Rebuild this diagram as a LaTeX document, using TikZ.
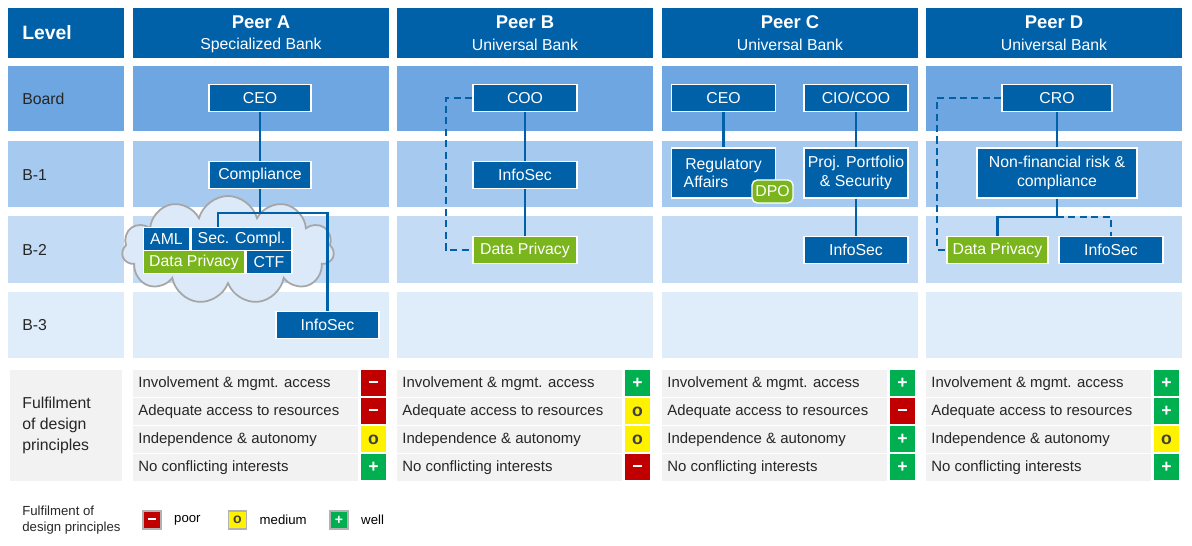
\documentclass[tikz,border=0pt]{standalone}
\usepackage{fontspec}
\setmainfont{Liberation Sans}
\usetikzlibrary{positioning,shapes.symbols}
\definecolor{hdblue}{HTML}{0060A8}
\definecolor{rowa}{HTML}{6EA6E2}
\definecolor{rowb}{HTML}{A6C9EF}
\definecolor{rowc}{HTML}{C3DBF5}
\definecolor{rowd}{HTML}{DFECFA}
\definecolor{cellgray}{HTML}{F2F2F2}
\definecolor{dpgreen}{HTML}{7AB51D}
\definecolor{poorred}{HTML}{C00000}
\definecolor{wellgreen}{HTML}{00B050}
\newcommand\peerhead[3]{%
  \fill[hdblue] (#1,8) rectangle ++(256,50);
  \node[font=\bfseries\fontsize{10.5}{12}\selectfont, text=white] at (#1+128,22) {#2};
  \node[font=\fontsize{9}{11}\selectfont, text=white] at (#1+128,45) {#3};}
\def\symneg{-}\def\symmed{o}\def\sympos{+}
\begin{document}
\begin{tikzpicture}[x=0.02cm, y=-0.02cm,
    every node/.style={font=\fontsize{9}{10.5}\selectfont, inner sep=0pt},
    box/.style={fill=hdblue, draw=white, line width=0.8pt, text=white, minimum height=27*0.02cm, align=center},
    dpbox/.style={box, fill=dpgreen},
    conn/.style={draw=hdblue, line width=1.3pt},
    dconn/.style={conn, dash pattern=on 4pt off 2.5pt},
    lvl/.style={anchor=west, font=\fontsize{9}{10.5}\selectfont, text=black!85},
    crit/.style={anchor=west, font=\fontsize{8.5}{10}\selectfont, text=black!85},
    score/.style={minimum width=25*0.02cm, minimum height=26*0.02cm, font=\bfseries\fontsize{10}{10}\selectfont}]
  \useasboundingbox (0,0) rectangle (1192,546);

  % Header row
  \fill[hdblue] (8,8) rectangle (124,58);
  \node[anchor=west, text=white, font=\bfseries\fontsize{11}{12}\selectfont] (lhead) at (22,33) {Level};
  \peerhead{133}{Peer A}{Specialized Bank}
  \peerhead{397}{Peer B}{Universal Bank}
  \peerhead{662}{Peer C}{Universal Bank}
  \peerhead{926}{Peer D}{Universal Bank}

  % Level rows
  \foreach \ya/\yb/\col in {66/131/rowa, 141/207/rowb, 216/283/rowc, 292/358/rowd}{
    \fill[\col] (8,\ya) rectangle (124,\yb);
    \foreach \x in {133,397,662,926}
      \fill[\col] (\x,\ya) rectangle ++(256,\yb-\ya);
  }
  \node[lvl] (lboard) at (22,99) {Board};
  \node[lvl] (lb1) at (22,175) {B-1};
  \node[lvl] (lb2) at (22,250) {B-2};
  \node[lvl] (lb3) at (22,325) {B-3};

  % Peer A
  \node[cloud, cloud puffs=11, aspect=2.2, draw=gray!70, line width=1pt, fill=rowc!60!white,
        minimum width=212*0.02cm, minimum height=108*0.02cm] (acloud) at (228,250) {};
  \node[box, minimum width=102*0.02cm] (aceo) at (260,98) {CEO};
  \node[box, minimum width=102*0.02cm] (acomp) at (260,175) {Compliance};
  \node[box, minimum width=103*0.02cm] (ainfo) at (327.5,325) {InfoSec};
  \node[box, minimum width=46*0.02cm, minimum height=23*0.02cm] (aaml) at (166.5,239) {AML};
  \node[box, minimum width=101*0.02cm, minimum height=23*0.02cm] (asec) at (241.5,239) {Sec. Compl.};
  \node[dpbox, minimum width=101*0.02cm, minimum height=23*0.02cm] (adp) at (194,262) {Data Privacy};
  \node[box, minimum width=46*0.02cm, minimum height=23*0.02cm] (actf) at (269,262) {CTF};
  \coordinate (aj) at (260,213);
  \coordinate (asecin) at (218,227);
  \draw[conn] (aceo) -- (acomp);
  \draw[conn] (acomp) -- (aj) -| (asecin);
  \draw[conn] (aj) -| (ainfo.north);

  % Peer B
  \node[box, minimum width=104*0.02cm] (bcoo) at (525,98) {COO};
  \node[box, minimum width=104*0.02cm] (binfo) at (525,175) {InfoSec};
  \node[dpbox, minimum width=104*0.02cm] (bdp) at (525,250) {Data Privacy};
  \draw[conn] (bcoo) -- (binfo) -- (bdp);
  \coordinate (bl) at (446,98);
  \draw[dconn] (bcoo.west) -- (bl) |- (bdp.west);

  % Peer C
  \node[box, minimum width=104*0.02cm] (cceo) at (723.5,98) {CEO};
  \node[box, minimum width=104*0.02cm] (ccio) at (856,98) {CIO/COO};
  \node[box, minimum width=104*0.02cm, minimum height=50*0.02cm] (creg) at (723.5,173) {Regulatory\\Affairs\hspace{4.2ex}\mbox{}};
  \node[dpbox, minimum width=41*0.02cm, minimum height=23*0.02cm, rounded corners=3pt] (cdpo) at (772.5,191.5) {DPO};
  \node[box, minimum width=104*0.02cm, minimum height=50*0.02cm] (cproj) at (856,173) {Proj. Portfolio\\\& Security};
  \node[box, minimum width=104*0.02cm] (cinfo) at (856,250) {InfoSec};
  \draw[conn] (cceo) -- (creg);
  \draw[conn] (ccio) -- (cproj) -- (cinfo);

  % Peer D
  \node[box, minimum width=110*0.02cm] (dcro) at (1057,98) {CRO};
  \node[box, minimum width=160*0.02cm, minimum height=50*0.02cm] (dnfr) at (1057,173) {Non-financial risk \&\\compliance};
  \node[dpbox, minimum width=101*0.02cm] (ddp) at (997.5,250) {Data Privacy};
  \node[box, minimum width=104*0.02cm] (dinfo) at (1111,250) {InfoSec};
  \coordinate (dj) at (1057,217);
  \coordinate (dl) at (937,98);
  \draw[conn] (dcro) -- (dnfr) -- (dj) -| (ddp.north);
  \draw[dconn] (dj) -| (dinfo.north);
  \draw[dconn] (dcro.west) -- (dl) |- (ddp.west);

  % Fulfilment of design principles
  \fill[cellgray] (10,370) rectangle (122,481);
  \node[anchor=west, align=left, font=\fontsize{9}{12}\selectfont, text=black!85] (lful) at (22,425) {Fulfilment\\of design\\principles};
  \foreach \x/\sa/\sb/\sc/\sd in {133/-/-/o/+, 397/+/o/o/-, 662/+/-/+/+, 926/+/+/o/+}{
    \foreach \y/\txt/\s in {370/Involvement \& mgmt. access/\sa, 398/Adequate access to resources/\sb,
        426/Independence \& autonomy/\sc, 454/No conflicting interests/\sd}{
      \fill[cellgray] (\x,\y) rectangle ++(225,27);
      \node[crit] at (\x+5,\y+13.5) {\txt};
      \edef\sv{\s}%
      \ifx\sv\symneg\node[score, fill=poorred, text=white] at (\x+240.5,\y+13.5) {\rule[0.3ex]{0.9ex}{0.25ex}};\fi
      \ifx\sv\symmed\node[score, fill=yellow, text=black!75] at (\x+240.5,\y+13.5) {o};\fi
      \ifx\sv\sympos\node[score, fill=wellgreen, text=white] at (\x+240.5,\y+13.5) {+};\fi
    }
  }

  % Legend
  \node[anchor=west, align=left, font=\fontsize{7.5}{9}\selectfont, text=black!85] (leg) at (22,520) {Fulfilment of\\design principles};
  \node[score, minimum width=18*0.02cm, minimum height=18*0.02cm, fill=poorred, draw=gray!60, line width=1pt, text=white] (lpoor) at (152,520) {\rule[0.3ex]{0.8ex}{0.22ex}};
  \node[right=12*0.02cm of lpoor, font=\fontsize{7.5}{9}\selectfont] {poor};
  \node[score, minimum width=18*0.02cm, minimum height=18*0.02cm, fill=yellow, draw=gray!60, line width=1pt, text=black!75, font=\bfseries\fontsize{8}{8}\selectfont] (lmed) at (237.5,520) {o};
  \node[right=12*0.02cm of lmed, font=\fontsize{7.5}{9}\selectfont] {medium};
  \node[score, minimum width=18*0.02cm, minimum height=18*0.02cm, fill=wellgreen, draw=gray!60, line width=1pt, text=white, font=\bfseries\fontsize{8}{8}\selectfont] (lwell) at (339,520) {+};
  \node[right=12*0.02cm of lwell, font=\fontsize{7.5}{9}\selectfont] {well};
\end{tikzpicture}
\end{document}
